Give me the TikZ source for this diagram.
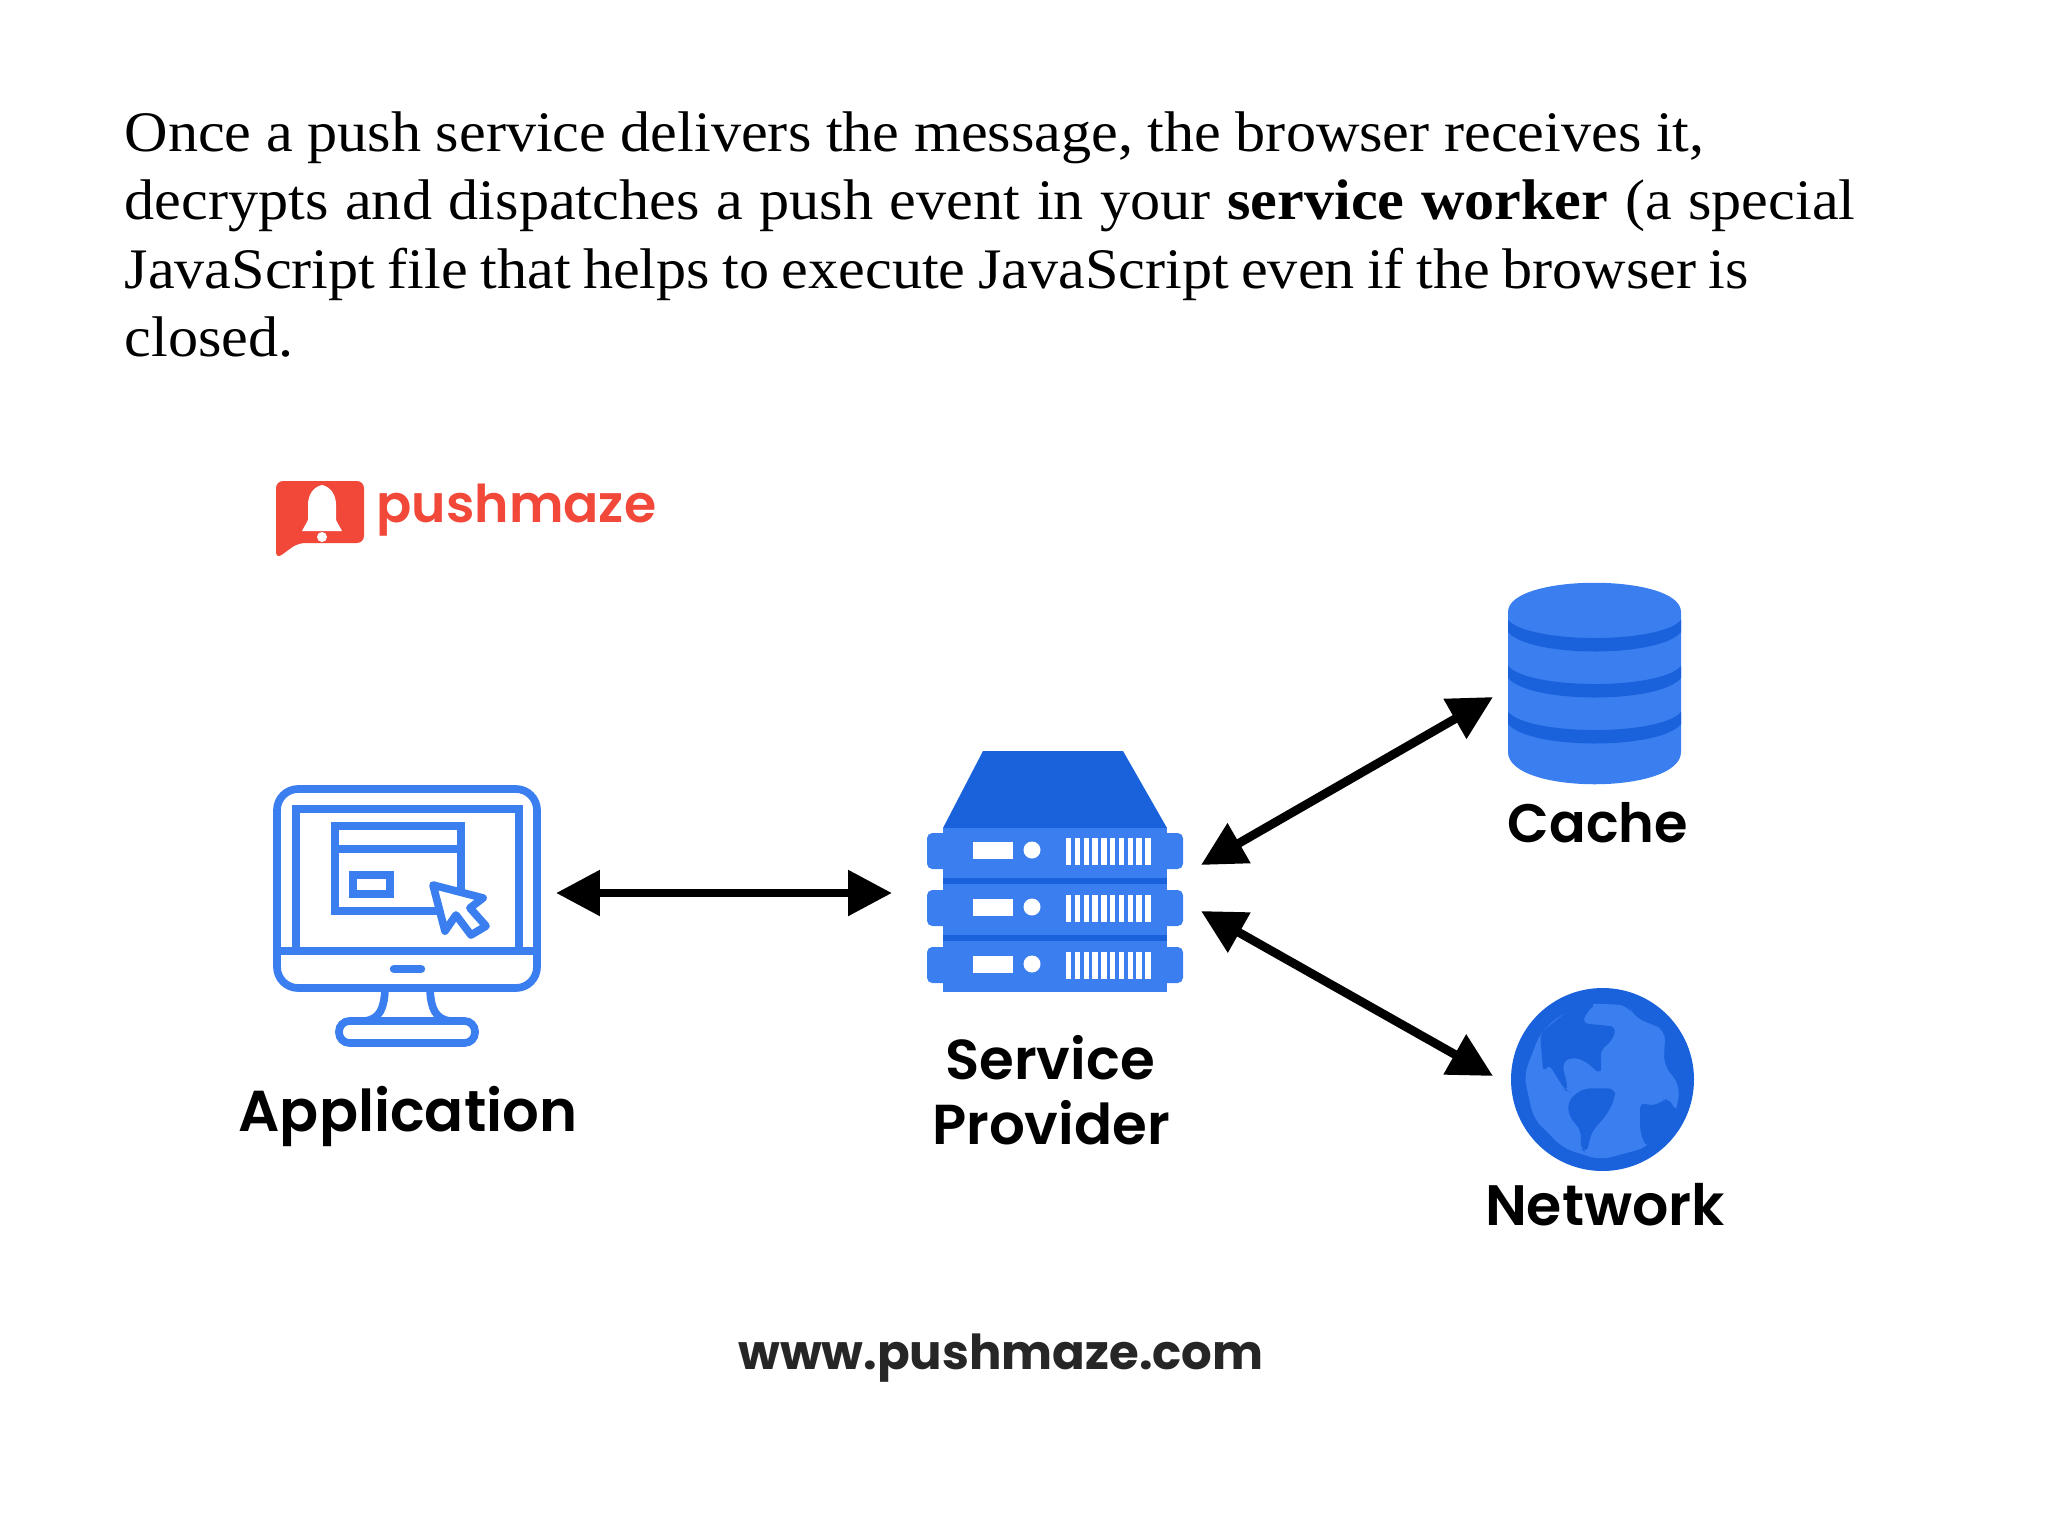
\documentclass[tikz,border=0pt]{standalone}
\usepackage{fontspec}
\setmainfont{Liberation Serif}[FakeStretch=1.05]
\newfontfamily\logofont{Poppins SemiBold}
\newfontfamily\webfont{Poppins}
\usetikzlibrary{arrows.meta}
\definecolor{iconblue}{HTML}{3B7EEF}
\definecolor{darkblue}{HTML}{1A62DC}
\definecolor{logored}{HTML}{F2483A}
\tikzset{
  bodytext/.style={anchor=base west,inner sep=0pt,font=\fontsize{16.3pt}{19.5pt}\selectfont},
  iconlabel/.style={anchor=base,inner sep=0pt,font=\logofont\fontsize{16pt}{18pt}\selectfont},
  biarrow/.style={line width=2.5pt,{Triangle[length=12.5pt,width=12.5pt]}-{Triangle[length=12.5pt,width=12.5pt]}},
  screenline/.style={draw=iconblue,line width=2.2pt}
}
\begin{document}
\begin{tikzpicture}[x=0.01cm,y=-0.01cm]
\useasboundingbox (0,0) rectangle (2048,1536);
\node[bodytext] (lineone) at (124,151) {\spaceskip=4.15pt Once a push service delivers the message, the browser receives it,};
\node[bodytext] (linetwo) at (124,219) {\spaceskip=4.74pt decrypts and dispatches a push event in your \textbf{service worker} (a special};
\node[bodytext] (linethree) at (124,288) {\spaceskip=3.53pt JavaScript file that helps to execute JavaScript even if the browser is};
\node[bodytext] (linefour) at (124,356) {closed.};
\fill[logored,rounded corners=2pt] (276,559) -- (276,481) -- (364,481) -- (364,543) -- (298,543) -- cycle;
\fill[white] (322,485) .. controls (331,487) and (336,495) .. (336,505) -- (336,520) -- (342,531) -- (302,531) -- (308,520) -- (308,505) .. controls (308,495) and (313,487) .. (322,485);
\fill[white] (322,537) circle[radius=5];
\node[anchor=base west,inner sep=0pt,text=logored,font=\logofont\fontsize{14.8pt}{18pt}\selectfont] (logotext) at (376,522) {pushmaze};
\draw[screenline,rounded corners=6pt] (277,789) rectangle (537,988);
\draw[screenline] (277,951) -- (537,951);
\draw[screenline] (296,951) -- (296,809) -- (519,809) -- (519,951);
\draw[screenline] (335,826) rectangle (461,911);
\draw[screenline] (335,849) -- (461,849);
\draw[screenline] (353,875) rectangle (390,894);
\draw[screenline,fill=white,line join=round] (433,885) -- (483,898) -- (470,908) -- (486,926) -- (471,935) -- (456,915) -- (445,931) -- cycle;
\draw[screenline,line cap=round,line width=2.4pt] (394,969) -- (421,969);
\draw[screenline] (385,990) .. controls (384,1008) and (380,1019) .. (365,1021);
\draw[screenline] (430,990) .. controls (431,1008) and (435,1019) .. (450,1021);
\draw[screenline,rounded corners=3pt] (339,1021) rectangle (475,1043);
\coordinate (appport) at (556,893);
\coordinate (provwest) at (892,893);
\draw[biarrow] (appport) -- (provwest);
\fill[darkblue] (983,751) -- (1123,751) -- (1167,828) -- (943,828) -- cycle;
\fill[iconblue] (943,828) rectangle (1167,992);
\foreach \yy in {0,57,114} {
  \fill[iconblue,rounded corners=1.5pt] (927,833+\yy) rectangle (1183,869+\yy);
  \fill[white] (973,842+\yy) rectangle (1013,859+\yy);
  \fill[white] (1032,850+\yy) circle[radius=8.5];
  \foreach \xx in {0,...,9}
    \fill[white] (1066+8.8*\xx,838+\yy) rectangle (1071.4+8.8*\xx,865+\yy);
}
\fill[darkblue] (943,878) rectangle (1167,884);
\fill[darkblue] (943,935) rectangle (1167,941);
\coordinate (provnorth) at (1201,865);
\coordinate (provsouth) at (1201,911);
\coordinate (cacheport) at (1493,697);
\coordinate (netport) at (1493,1076);
\draw[biarrow] (provnorth) -- (cacheport);
\draw[biarrow] (provsouth) -- (netport);
\fill[iconblue] (1508,612) .. controls (1508,573) and (1681,573) .. (1681,612) -- (1681,752) .. controls (1681,795) and (1508,795) .. (1508,752) -- cycle;
\foreach \yy in {620,666,712}
  \fill[darkblue] (1508,\yy) .. controls (1530,\yy+24) and (1660,\yy+24) .. (1681,\yy) -- (1681,\yy+12) .. controls (1660,\yy+38) and (1530,\yy+38) .. (1508,\yy+12) -- cycle;
\fill[darkblue] (1602.5,1079.5) circle[radius=91.5];
\begin{scope}[shift={(1500,975)},scale=0.3333]
\fill[iconblue,rounded corners=3pt] (120,175) -- (72,300) -- (100,430) -- (190,520) -- (300,555) -- (440,518) -- (530,410) -- (540,330) -- (490,270) -- (497,165) -- (470,155) -- (400,125) -- (385,90) -- (260,85) -- (180,120) -- cycle;
\fill[darkblue,rounded corners=2pt] (120,175) -- (130,295) -- (145,265) -- (195,345) -- (205,350) -- (195,300) -- (185,265) -- (215,245) -- (260,260) -- (300,300) -- (305,270) -- (300,225) -- (335,200) -- (350,155) -- (300,150) -- (245,145) -- (265,105) -- (290,85) -- (250,70) -- cycle;
\fill[darkblue,rounded corners=2pt] (205,375) -- (250,340) -- (345,340) -- (345,370) -- (320,420) -- (275,470) -- (260,535) -- (240,520) -- (245,470) -- (205,420) -- cycle;
\fill[darkblue,rounded corners=2pt] (420,380) -- (460,395) -- (490,375) -- (510,370) -- (525,410) -- (545,400) -- (440,520) -- (420,470) -- cycle;
\end{scope}
\node[iconlabel,font=\logofont\fontsize{16.4pt}{18pt}\selectfont] (application) at (408,1131) {Application};
\node[iconlabel] (service) at (1050,1079) {Service};
\node[iconlabel] (provider) at (1051,1144) {Provider};
\node[iconlabel,font=\logofont\fontsize{15.4pt}{18pt}\selectfont] (cache) at (1598,842) {Cache};
\node[iconlabel,font=\logofont\fontsize{16.2pt}{18pt}\selectfont] (network) at (1605,1225) {Network};
\node[iconlabel,text=black!85,font=\webfont\bfseries\fontsize{13.7pt}{16pt}\selectfont] (website) at (1001,1369) {www.pushmaze.com};
\end{tikzpicture}
\end{document}
